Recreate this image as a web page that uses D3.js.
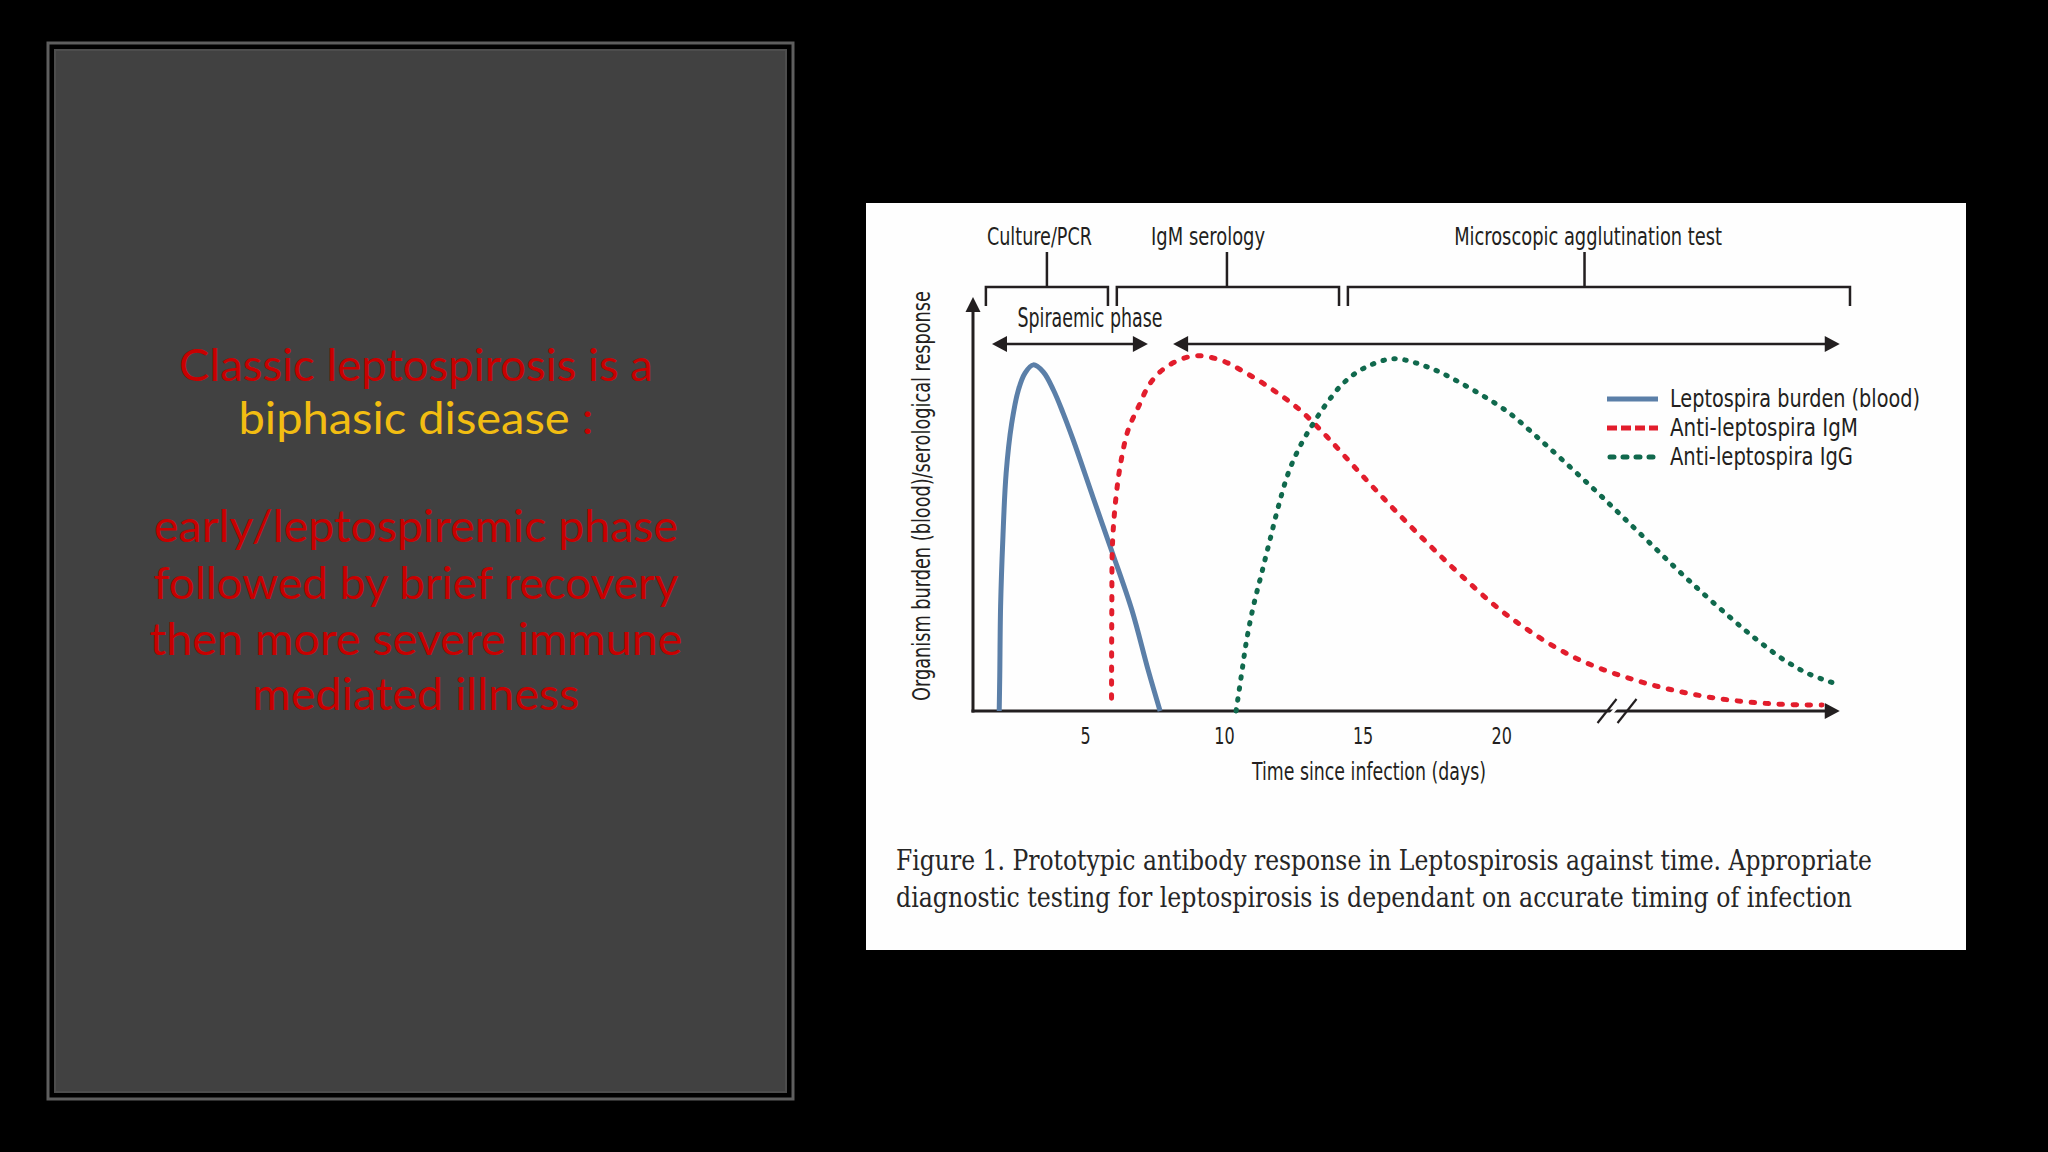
<!DOCTYPE html>
<html><head><meta charset="utf-8">
<script src="https://cdn.jsdelivr.net/npm/d3@7"></script>
<style>html,body{margin:0;padding:0;background:#000;overflow:hidden}svg{display:block}</style>
</head><body>
<svg id="c" width="2048" height="1152"></svg>
<script>
// ---------- data ----------
const burdenDays  = [1.90, 1.92, 1.95, 2.03, 2.15, 2.35, 2.59, 2.83, 3.13, 3.49, 3.85, 4.20, 4.57, 5.29, 5.96, 6.68, 7.27, 7.70];
const burdenLevel = [0,    10,   29.4, 48.2, 67,   81,   90.4, 95.2, 97.5, 95.5, 90.5, 84,   76.3, 60,   45,   28.5, 11.5, 0];

const igmDays  = [5.95, 5.96, 5.99, 6.14, 6.32, 6.55, 6.92, 7.34, 7.94, 8.90, 9.86, 10.82, 11.78, 12.74, 13.71, 14.91, 16.11, 17.31, 18.51, 20.21, 22.58, 25.0, 27.42, 29.79, 31.56];
const igmLevel = [3.6,  29.4, 48.2, 62.3, 71.6, 79.2, 85.7, 92.3, 97,   100,  98.9, 95.1,  90.4,  84.8,  77.3,  67,    57,    47.5,  38.5,  27,    15.3,  8.3,  4.0,   2.0,   1.7];

const iggDays  = [10.44, 10.64, 10.82, 11.06, 11.36, 11.66, 11.96, 12.32, 12.74, 13.22, 13.71, 14.30, 15.03, 16.11, 17.31, 18.51, 20.19, 21.03, 23.2, 25.0, 26.8, 28.6, 29.39, 30.23, 31.07, 32.09];
const iggLevel = [0,     10.6,  20,    29.4,  38.8,  48.2,  57.5,  67,    74.5,  81,    86.7,  92.3,  96.5,  99.2,  97,    92.5,  84.5,  79,    63.5, 50,   36.5, 24,   19,    14.2,  10.5,  7.6];

const tickDays = [5, 10, 15, 20];
const seriesNames = ["Leptospira burden (blood)", "Anti-leptospira IgM", "Anti-leptospira IgG"];

const tests          = ["Culture/PCR", "IgM serology", "Microscopic agglutination test"];
const testStartDay   = [1.42, 6.14, 14.47];
const testEndDay     = [5.82, 14.15, 32.57];
const testStemDay    = [3.62, 10.11, 23.0];
const testLabelDay   = [3.35, 9.43, 23.13];

const phaseName      = "Spiraemic phase";
const phaseStartDay  = [1.64, 8.17];
const phaseEndDay    = [7.26, 32.2];
const breakDay = 24.19;
const axisStartDay = 0.955, axisEndDay = 32.2, axisTopLevel = 116.6;

const captionLines = [
  "Figure 1. Prototypic antibody response in Leptospirosis against time. Appropriate",
  "diagnostic testing for leptospirosis is dependant on accurate timing of infection"
];

// ---------- drawing ----------
const svg = d3.select("#c");
svg.append("rect").attr("width", 2048).attr("height", 1152).attr("fill", "#000");

// left slide panel
svg.append("rect").attr("x", 48).attr("y", 43).attr("width", 745).attr("height", 1056)
  .attr("fill", "none").attr("stroke", "#5e5e5e").attr("stroke-width", 3);
svg.append("rect").attr("x", 55).attr("y", 50).attr("width", 731).attr("height", 1042)
  .attr("fill", "#414141").attr("stroke", "#4d4d4d").attr("stroke-width", 2);

const RED = "#c80000", YEL = "#f2bd12";
const leftFont = "Lato, 'Open Sans', sans-serif";
const leftLines = [
  {y: 381, w: 474, parts: [["Classic leptospirosis is a", RED]]},
  {y: 434, w: 355, parts: [["biphasic disease", YEL], [" :", RED]]},
  {y: 542, w: 524, parts: [["early/leptospiremic phase", RED]]},
  {y: 599, w: 525, parts: [["followed by brief recovery", RED]]},
  {y: 655, w: 533, parts: [["then more severe immune", RED]]},
  {y: 710, w: 327, parts: [["mediated illness", RED]]}
];
leftLines.forEach(l => {
  const t = svg.append("text").attr("x", 416).attr("y", l.y).attr("text-anchor", "middle")
    .attr("font-family", leftFont).attr("font-size", 44)
    .attr("textLength", l.w).attr("lengthAdjust", "spacingAndGlyphs");
  l.parts.forEach(p => t.append("tspan").attr("fill", p[1]).text(p[0]));
});

// right white figure panel
svg.append("rect").attr("x", 866).attr("y", 203).attr("width", 1100).attr("height", 747).attr("fill", "#fefefe");

const x = d3.scaleLinear().domain([0, 30]).range([946.5, 1778.7]);
const y = d3.scaleLinear().domain([0, 100]).range([711, 356]);
const INK = "#231f20";
const condensed = "'Liberation Sans Narrow', 'Arial Narrow', 'DejaVu Sans Condensed', sans-serif";

function tri(tipX, tipY, dir, len, half) {
  let p;
  if (dir === "up") p = [[tipX, tipY], [tipX - half, tipY + len], [tipX + half, tipY + len]];
  else if (dir === "right") p = [[tipX, tipY], [tipX - len, tipY - half], [tipX - len, tipY + half]];
  else p = [[tipX, tipY], [tipX + len, tipY - half], [tipX + len, tipY + half]];
  svg.append("path").attr("d", "M" + p.map(q => q.join(",")).join("L") + "Z").attr("fill", INK);
}

// axes
const x0 = x(axisStartDay), y0 = y(0), xEnd = x(axisEndDay), yTop = y(axisTopLevel);
svg.append("line").attr("x1", x0).attr("x2", x0).attr("y1", y0 + 1.5).attr("y2", yTop + 12)
  .attr("stroke", INK).attr("stroke-width", 3);
tri(x0, yTop, "up", 15, 7.5);
svg.append("line").attr("x1", x0 - 1.5).attr("x2", xEnd - 12).attr("y1", y0).attr("y2", y0)
  .attr("stroke", INK).attr("stroke-width", 3);
tri(xEnd, y0, "right", 15, 8);

// axis break
const bx = x(breakDay);
svg.append("path").attr("d", `M${bx - 14},${y0 + 9}L${bx + 2},${y0 - 9}L${bx + 6},${y0 - 9}L${bx - 10},${y0 + 9}Z`)
  .attr("fill", "#fefefe");
[-10, 10].forEach(o => {
  svg.append("line").attr("x1", bx + o - 10).attr("y1", y0 + 12).attr("x2", bx + o + 9).attr("y2", y0 - 12)
    .attr("stroke", INK).attr("stroke-width", 2.2);
});

// tick labels
const xAxis = d3.axisBottom(x).tickValues(tickDays).tickSize(0).tickPadding(17).tickFormat(d3.format("d"));
const gx = svg.append("g").attr("transform", `translate(0,${y0})`).call(xAxis);
gx.select(".domain").remove();
gx.attr("font-family", null).attr("font-size", null);
gx.selectAll("text").attr("font-family", condensed).attr("font-size", 23).attr("fill", INK)
  .attr("textLength", d => String(d).length * 10.2).attr("lengthAdjust", "spacingAndGlyphs");

// axis titles
svg.append("text").attr("x", 1369).attr("y", 780).attr("text-anchor", "middle")
  .attr("font-family", condensed).attr("font-size", 24).attr("fill", INK)
  .attr("textLength", 234).attr("lengthAdjust", "spacingAndGlyphs")
  .text("Time since infection (days)");
svg.append("text").attr("transform", "translate(930,496) rotate(-90)").attr("text-anchor", "middle")
  .attr("font-family", condensed).attr("font-size", 24).attr("fill", INK)
  .attr("textLength", 410).attr("lengthAdjust", "spacingAndGlyphs")
  .text("Organism burden (blood)/serological response");

// test brackets
const BR_TOP = 287, BR_BOT = 306, STEM_TOP = 252, LBL_Y = 245;
tests.forEach((t, i) => {
  const a = x(testStartDay[i]), b = x(testEndDay[i]), s = x(testStemDay[i]);
  svg.append("path").attr("d", `M${a},${BR_BOT}V${BR_TOP}H${b}V${BR_BOT}M${s},${BR_TOP}V${STEM_TOP}`)
    .attr("fill", "none").attr("stroke", INK).attr("stroke-width", 2.5);
  svg.append("text").attr("x", x(testLabelDay[i])).attr("y", LBL_Y).attr("text-anchor", "middle")
    .attr("font-family", condensed).attr("font-size", 24).attr("fill", INK)
    .attr("textLength", [105, 114, 268][i]).attr("lengthAdjust", "spacingAndGlyphs")
    .text(t);
});

// phase arrows
const PH_Y = 344;
phaseStartDay.forEach((d, i) => {
  const a = x(d), b = x(phaseEndDay[i]);
  svg.append("line").attr("x1", a + 10).attr("x2", b - 10).attr("y1", PH_Y).attr("y2", PH_Y)
    .attr("stroke", INK).attr("stroke-width", 2.5);
  tri(a, PH_Y, "left", 15, 8);
  tri(b, PH_Y, "right", 15, 8);
});
svg.append("text").attr("x", 1090).attr("y", 327).attr("text-anchor", "middle")
  .attr("font-family", condensed).attr("font-size", 27).attr("fill", INK)
  .attr("textLength", 145).attr("lengthAdjust", "spacingAndGlyphs").text(phaseName);

// curves
const line = d3.line().x(d => x(d[0])).y(d => y(d[1])).curve(d3.curveCatmullRom.alpha(0.5));
const zip = (a, b) => a.map((v, i) => [v, b[i]]);
const BLUE = "#5b7fa8", REDL = "#e21d2c", GREEN = "#10694d";

svg.append("path").attr("d", line(zip(burdenDays, burdenLevel)))
  .attr("fill", "none").attr("stroke", BLUE).attr("stroke-width", 5).attr("stroke-linejoin", "round");
svg.append("path").attr("d", line(zip(igmDays, igmLevel)))
  .attr("fill", "none").attr("stroke", REDL).attr("stroke-width", 5)
  .attr("stroke-linecap", "round").attr("stroke-dasharray", "3.5 10.5");
svg.append("path").attr("d", line(zip(iggDays, iggLevel)))
  .attr("fill", "none").attr("stroke", GREEN).attr("stroke-width", 5)
  .attr("stroke-linecap", "round").attr("stroke-dasharray", "1.5 9.5");

// legend
const legStyles = [
  {c: BLUE, dash: null, cap: "butt"},
  {c: REDL, dash: "10 4", cap: "butt"},
  {c: GREEN, dash: "4 9", cap: "round"}
];
seriesNames.forEach((n, i) => {
  const ly = 399 + i * 29;
  const ln = svg.append("line").attr("x1", legStyles[i].cap === "round" ? 1610 : 1607).attr("x2", 1658)
    .attr("y1", ly).attr("y2", ly).attr("stroke", legStyles[i].c).attr("stroke-width", 5)
    .attr("stroke-linecap", legStyles[i].cap);
  if (legStyles[i].dash) ln.attr("stroke-dasharray", legStyles[i].dash);
  svg.append("text").attr("x", 1670).attr("y", ly + 8).attr("font-family", condensed)
    .attr("font-size", 24).attr("fill", INK)
    .attr("textLength", [250, 188, 183][i]).attr("lengthAdjust", "spacingAndGlyphs").text(n);
});

// caption
captionLines.forEach((c, i) => {
  svg.append("text").attr("x", 896).attr("y", 870 + i * 37)
    .attr("font-family", "'DejaVu Serif', 'Liberation Serif', serif").attr("font-size", 27)
    .attr("fill", "#262626").attr("textLength", [976, 956][i]).attr("lengthAdjust", "spacingAndGlyphs")
    .text(c);
});
</script>
</body></html>
